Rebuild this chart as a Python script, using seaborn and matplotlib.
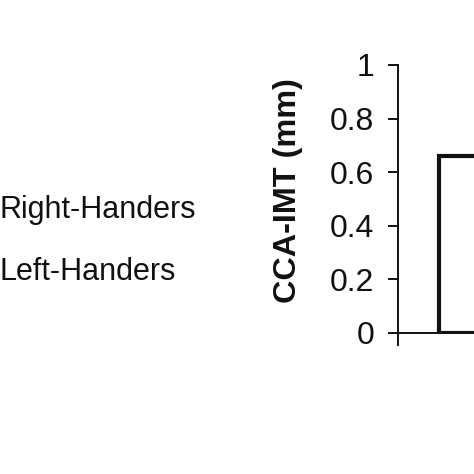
import matplotlib
matplotlib.use("Agg")
import matplotlib.pyplot as plt
import seaborn as sns
import pandas as pd

# Data
categories = ["Right-Handers"]
values = [0.662]
legend_labels = ["Right-Handers", "Left-Handers"]
y_ticks = [0, 0.2, 0.4, 0.6, 0.8, 1]
y_tick_labels = ["0", "0.2", "0.4", "0.6", "0.8", "1"]
y_label = "CCA-IMT (mm)"

sns.set_theme(style="white")
plt.rcParams['font.family'] = ['Liberation Sans', 'DejaVu Sans']

W = H = 474
fig = plt.figure(figsize=(W / 100, H / 100), dpi=100)
fig.patch.set_facecolor("white")

ax_left_px, ax_bottom_px, ax_h_px, ax_w_px = 398, 141, 268, 300
ax = fig.add_axes([ax_left_px / W, ax_bottom_px / H, ax_w_px / W, ax_h_px / H])
ax.set_facecolor("white")

df = pd.DataFrame({"group": categories, "value": values})
sns.barplot(data=df, x="group", y="value", color="white", edgecolor="black",
            linewidth=3.0, width=0.8, ax=ax, saturation=1)
for p in ax.patches:
    p.set_facecolor("white")
    p.set_edgecolor("#111111")

px_per_unit = 120.0
x_left = -0.4 - 41 / px_per_unit
ax.set_xlim(x_left, x_left + ax_w_px / px_per_unit)
ax.set_ylim(0, 1)

ax.set_yticks(y_ticks)
ax.set_yticklabels(y_tick_labels)
ax.set_xticks([x_left])
ax.set_xticklabels([""])
ax.set_xlabel("")

for s in ["top", "right"]:
    ax.spines[s].set_visible(False)
for s in ["left", "bottom"]:
    ax.spines[s].set_color("#111111")
    ax.spines[s].set_linewidth(1.4)

ax.tick_params(axis="y", direction="out", length=7.2, width=1.4, color="#111111",
               pad=10, labelsize=23, labelcolor="#111111", left=True)
ax.tick_params(axis="x", direction="out", length=9.4, width=1.4, color="#111111",
               bottom=True)

ax.set_ylabel(y_label, fontsize=23.3, fontweight="bold", color="#111111")
ax.yaxis.set_label_coords(303 / W, 283.5 / H, transform=fig.transFigure)

# Legend labels (legend keys lie outside the visible crop)
baselines_px = [218, 280]
for lab, yb in zip(legend_labels, baselines_px):
    fig.text(0 / W, 1 - yb / H, lab, ha="left", va="baseline",
             fontsize=22, color="#111111")

fig.savefig("out.png", dpi=100, facecolor="white")
